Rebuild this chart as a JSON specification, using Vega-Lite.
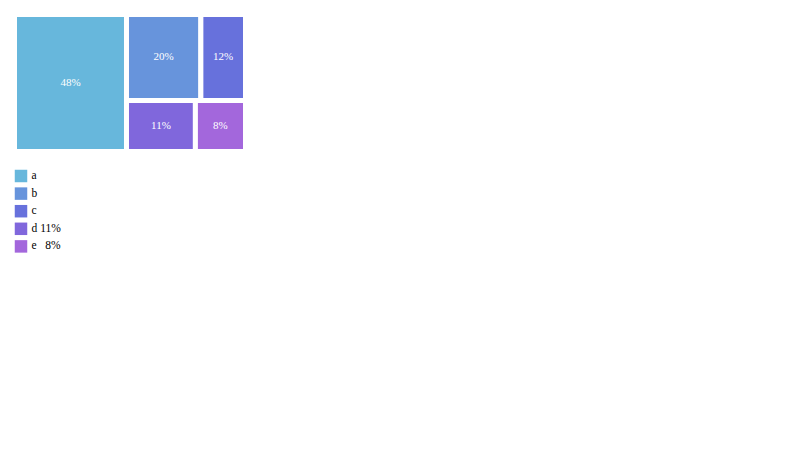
{
  "$schema": "https://vega.github.io/schema/vega-lite/v6.json",
  "width": 231,
  "height": 137,
  "autosize": "none",
  "padding": {"left": 14.5, "top": 14.5, "right": 554.5, "bottom": 298.5},
  "background": "white",
  "config": {"view": {"stroke": null}, "font": "Liberation Serif"},
  "data": {
    "values": [
      {"name": "a", "value": 48, "x0": 0, "x1": 0.4848, "y0": 0, "y1": 1},
      {"name": "b", "value": 20, "x0": 0.4848, "x1": 0.8068, "y0": 0, "y1": 0.6275},
      {"name": "c", "value": 12, "x0": 0.8068, "x1": 1, "y0": 0, "y1": 0.6275},
      {"name": "d", "value": 11, "x0": 0.4848, "x1": 0.7831, "y0": 0.6275, "y1": 1},
      {"name": "e", "value": 8, "x0": 0.7831, "x1": 1, "y0": 0.6275, "y1": 1}
    ]
  },
  "transform": [
    {"calculate": "(datum.x0 + datum.x1) / 2", "as": "xc"},
    {"calculate": "(datum.y0 + datum.y1) / 2", "as": "yc"},
    {"calculate": "datum.value + '%'", "as": "label"}
  ],
  "layer": [
    {
      "mark": {"type": "rect", "stroke": "white", "strokeWidth": 5, "opacity": 1},
      "encoding": {
        "x": {"field": "x0", "type": "quantitative", "scale": {"domain": [0, 1], "nice": false, "zero": false}, "axis": null},
        "x2": {"field": "x1"},
        "y": {"field": "y0", "type": "quantitative", "scale": {"domain": [0, 1], "nice": false, "zero": false, "reverse": true}, "axis": null},
        "y2": {"field": "y1"},
        "color": {
          "field": "name",
          "type": "nominal",
          "scale": {"domain": ["a", "b", "c", "d", "e"], "range": ["#67b7dc", "#6794dc", "#6771dc", "#8067dc", "#a367dc"]},
          "legend": {
            "title": null,
            "orient": "none",
            "legendX": 0,
            "legendY": 155,
            "symbolType": "square",
            "symbolSize": 156,
            "symbolStrokeWidth": 0,
            "symbolOpacity": 1,
            "labelFont": "Liberation Serif",
            "labelFontSize": 11.5,
            "labelColor": "#000000",
            "labelOffset": 4,
            "rowPadding": 4.6,
            "labelExpr": "datum.label == 'd' ? 'd\u00a011%' : datum.label == 'e' ? 'e\u00a0\u00a0\u00a08%' : datum.label"
          }
        }
      }
    },
    {
      "mark": {"type": "text", "color": "white", "fontSize": 11, "font": "Liberation Serif", "baseline": "middle", "align": "center"},
      "encoding": {
        "x": {"field": "xc", "type": "quantitative"},
        "y": {"field": "yc", "type": "quantitative"},
        "text": {"field": "label"}
      }
    }
  ]
}
